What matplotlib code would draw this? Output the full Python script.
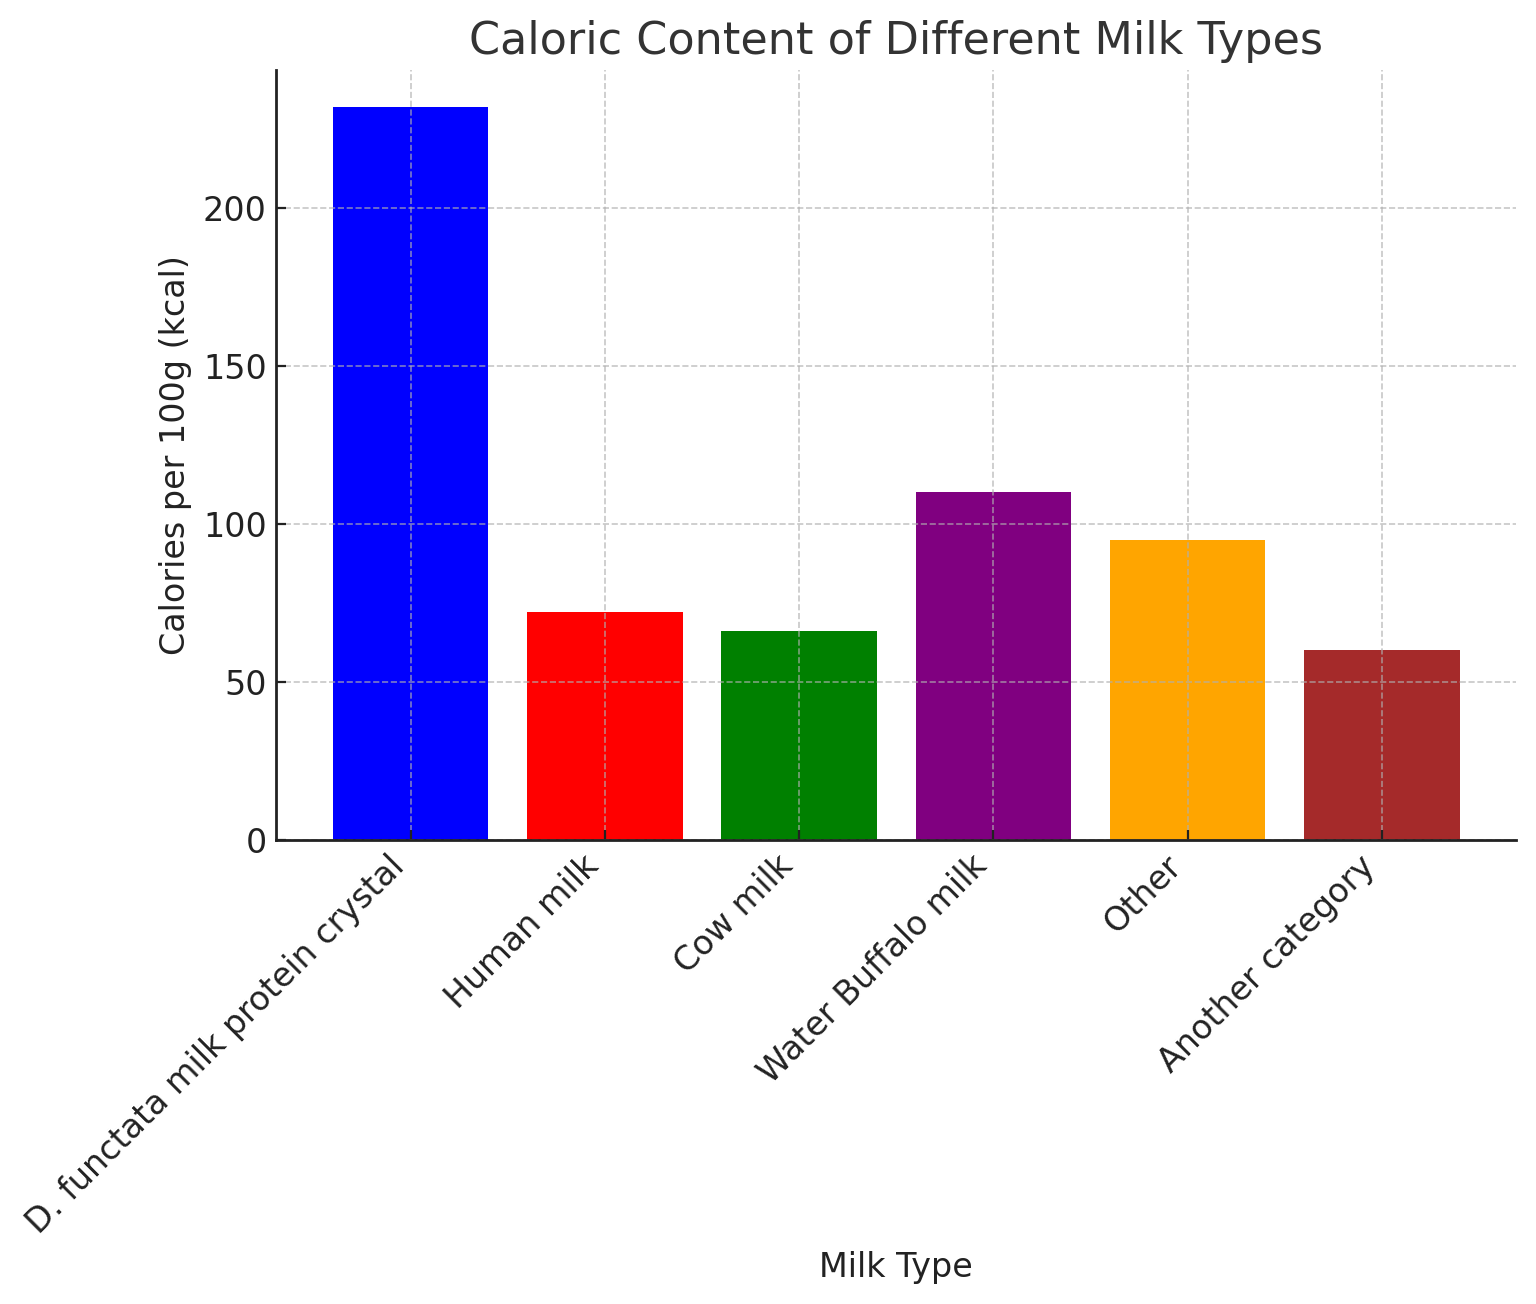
import matplotlib.pyplot as plt

milk_types = ["D. functata milk protein crystal", "Human milk", "Cow milk",
              "Water Buffalo milk", "Other", "Another category"]
calories = [232, 72, 66, 110, 95, 60]
bar_colors = ["blue", "red", "green", "purple", "orange", "brown"]

plt.rcParams["font.family"] = "DejaVu Sans"

fig, ax = plt.subplots(figsize=(7.68, 6.52), dpi=200)
fig.subplots_adjust(left=0.18, right=0.987, top=0.946, bottom=0.356)

ax.bar(milk_types, calories, color=bar_colors, zorder=1)
ax.grid(True, linestyle="--", color="#b0b0b0", alpha=0.7, linewidth=0.6, zorder=3)
ax.set_axisbelow(False)

ax.set_title("Caloric Content of Different Milk Types", fontsize=16, color="#333333")
ax.set_xlabel("Milk Type", fontsize=12, color="#222222")
ax.set_ylabel("Calories per 100g (kcal)", fontsize=12, color="#222222")
ax.tick_params(axis="both", direction="in", labelsize=12, colors="#222222")
plt.setp(ax.get_xticklabels(), rotation=45, ha="right")

ax.spines["top"].set_visible(False)
ax.spines["right"].set_visible(False)
for s in ("left", "bottom"):
    ax.spines[s].set_linewidth(1.0)
    ax.spines[s].set_color("#222222")
    ax.spines[s].set_zorder(5)

fig.savefig("out.png", dpi=200)
